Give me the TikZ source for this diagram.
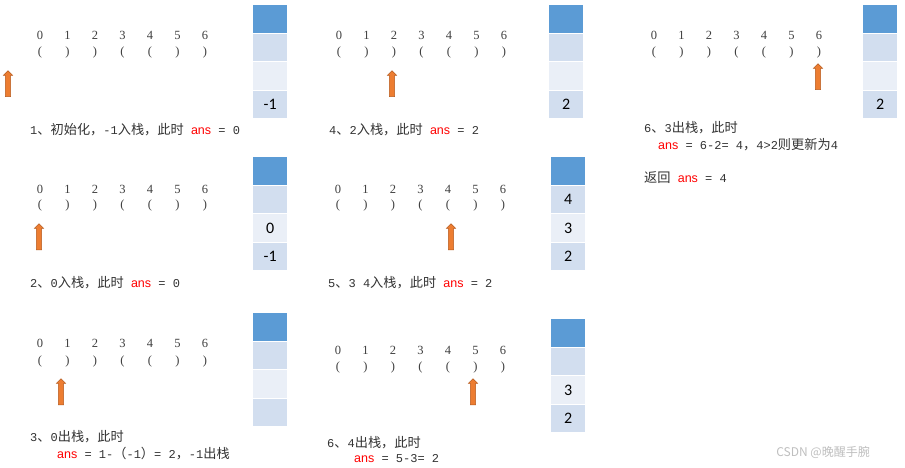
\documentclass[tikz,border=0pt]{standalone}
\usepackage{fontspec}
\setmainfont{Liberation Serif}
\newfontfamily\cjk{Noto Sans CJK SC}
\newfontfamily\arial{Liberation Sans}
\newfontfamily\calib{Carlito}
\newfontfamily\monof{Liberation Mono}
\usetikzlibrary{shapes.arrows}
\definecolor{topblue}{HTML}{5B9BD5}
\definecolor{cellA}{HTML}{D2DEEF}
\definecolor{cellB}{HTML}{EAEFF7}
\definecolor{arrfill}{HTML}{ED7D31}
\definecolor{arrline}{HTML}{B55A1E}
\definecolor{ansred}{HTML}{FF0000}
\tikzset{
  topcell/.style={fill=topblue,minimum width=34pt,minimum height=27.5pt,inner sep=0,draw=none},
  lightcell/.style={fill=cellA,minimum width=34pt,minimum height=27.5pt,inner sep=0,font=\calib\fontsize{16}{16}\selectfont},
  palecell/.style={fill=cellB,minimum width=34pt,minimum height=27.5pt,inner sep=0,font=\calib\fontsize{16}{16}\selectfont},
  idx/.style={inner sep=0,font=\fontsize{12.5}{12.5}\selectfont,text=black!75},
  caption/.style={inner sep=0,anchor=west,font=\cjk\fontsize{13.2}{13.2}\selectfont,text=black!80},
  uparrow/.style={single arrow,shape border rotate=90,fill=arrfill,draw=arrline,line width=0.5pt,
    minimum height=26pt,minimum width=9pt,inner sep=2.3pt,single arrow head extend=2pt,anchor=tail},
  wm/.style={inner sep=0,anchor=east,font=\cjk\fontsize{12}{12}\selectfont,text=black!25}
}
\newcommand\m[1]{{\monof\fontsize{12}{12}\selectfont #1}}
\newcommand\ans{{\color{ansred}\arial\fontsize{12.5}{12.5}\selectfont ans}}
% stack: #1 prefix, #2 left x, #3 top y, #4 #5 #6 values
\newcommand\stk[6]{%
  \node[topcell,anchor=north west] (#1a) at (#2,#3) {};
  \node[lightcell,anchor=north west] (#1b) at (#2,#3+28.5) {#4};
  \node[palecell,anchor=north west] (#1c) at (#2,#3+57) {#5};
  \node[lightcell,anchor=north west] (#1d) at (#2,#3+85.5) {#6};
}
% index row: #1 prefix, #2 x of 0, #3 y of digits, #4 y of parens
\newcommand\row[4]{%
  \foreach \i/\p in {0/(,1/),2/),3/(,4/(,5/),6/)}{
    \node[idx] (#1n\i) at (#2+\i*27.5,#3) {\i};
    \node[idx] (#1p\i) at (#2+\i*27.5,#4) {\p};
  }
}
\begin{document}
\begin{tikzpicture}[x=1pt,y=-1pt]
\useasboundingbox (0,0) rectangle (905,468);
\fill[white] (0,0) rectangle (905,468);

% ---- panel 1
\row{a}{40}{35}{52}
\node[uparrow] (aarr) at (8,97) {};
\stk{as}{253}{5}{}{}{-1}
\node[caption] (acap) at (30,130) {\m{1}、初始化，\m{-1}入栈，此时\m{ }\ans\m{ = 0}};

% ---- panel 2
\row{b}{40}{189}{205}
\node[uparrow] (barr) at (39,250) {};
\stk{bs}{253}{157}{}{0}{-1}
\node[caption] (bcap) at (30,283) {\m{2}、\m{0}入栈，此时\m{ }\ans\m{ = 0}};

% ---- panel 3
\row{c}{40}{343}{361}
\node[uparrow] (carr) at (61,405) {};
\stk{cs}{253}{313}{}{}{}
\node[caption] (ccap) at (30,437) {\m{3}、\m{0}出栈，此时};
\node[caption] (ccap2) at (57,454) {\ans\m{ = 1-}（\m{-1}）\m{= 2}，\m{-1}出栈};

% ---- panel 4
\row{d}{339}{35}{52}
\node[uparrow] (darr) at (392,97) {};
\stk{ds}{549}{5}{}{}{2}
\node[caption] (dcap) at (329,130) {\m{4}、\m{2}入栈，此时\m{ }\ans\m{ = 2}};

% ---- panel 5
\row{e}{338}{189}{205}
\node[uparrow] (earr) at (451,250) {};
\stk{es}{551}{157}{4}{3}{2}
\node[caption] (ecap) at (328,283) {\m{5}、\m{3 4}入栈，此时\m{ }\ans\m{ = 2}};

% ---- panel 6 (bottom middle)
\row{f}{338}{350}{367}
\node[uparrow] (farr) at (473,405) {};
\stk{fs}{551}{319}{}{3}{2}
\node[caption] (fcap) at (327,443) {\m{6}、\m{4}出栈，此时};
\node[caption] (fcap2) at (354,459) {\ans\m{ = 5-3= 2}};

% ---- panel 7 (top right)
\row{g}{654}{35}{52}
\node[uparrow] (garr) at (818,90) {};
\stk{gs}{863}{5}{}{}{2}
\node[caption] (gcap) at (644,128) {\m{6}、\m{3}出栈，此时};
\node[caption] (gcap2) at (658,145) {\ans\m{ = 6-2= 4}，\m{4>2}则更新为\m{4}};
\node[caption] (gcap3) at (644,178) {返回\m{ }\ans\m{ = 4}};

% watermark
\node[wm] (wmk) at (870,452) {CSDN @晚醒手腕};
\end{tikzpicture}
\end{document}
